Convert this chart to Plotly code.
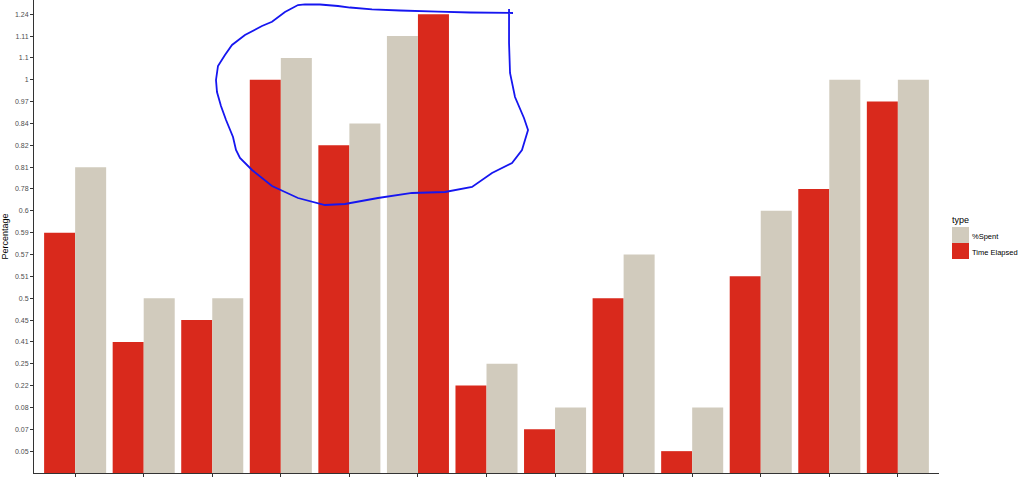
import plotly.graph_objects as go

# y values are factor levels in the source chart, so the axis is ordinal:
# every level gets one evenly spaced slot, lowest at the bottom.
LEVELS = ["0.05", "0.07", "0.08", "0.22", "0.25", "0.41", "0.45", "0.5", "0.51",
          "0.57", "0.59", "0.6", "0.78", "0.81", "0.82", "0.84", "0.97", "1",
          "1.1", "1.11", "1.24"]

GROUPS = list(range(1, 14))
TIME_ELAPSED = ["0.59", "0.41", "0.45", "1", "0.82", "1.24", "0.22", "0.07",
                "0.5", "0.05", "0.51", "0.78", "0.97"]
SPENT = ["0.81", "0.5", "0.5", "1.1", "0.84", "1.11", "0.25", "0.08",
         "0.57", "0.08", "0.6", "1", "1"]
# which series sits on the left of each pair (group 6 is flipped in the source)
ELAPSED_LEFT = [True, True, True, True, True, False, True, True,
                True, True, True, True, True]

RED = "#d9291c"
SAND = "#d1cbbd"
INK = "#4d4d4d"

W, H = 1024, 477
M = dict(l=34, r=85, t=0, b=4)
BW = 0.4525  # one bar, in group units


def slot(v):
    return LEVELS.index(v) + 1


fig = go.Figure()
fig.add_trace(go.Bar(x=GROUPS, y=[slot(v) for v in TIME_ELAPSED], name="Time Elapsed",
                     width=BW, offset=[-BW if left else 0 for left in ELAPSED_LEFT],
                     marker=dict(color=RED, line=dict(width=0))))
fig.add_trace(go.Bar(x=GROUPS, y=[slot(v) for v in SPENT], name="%Spent",
                     width=BW, offset=[0 if left else -BW for left in ELAPSED_LEFT],
                     marker=dict(color=SAND, line=dict(width=0))))

pw = W - M["l"] - M["r"]
ph = H - M["t"] - M["b"]


def paper(px, py):
    return (px - M["l"]) / pw, (H - M["b"] - py) / ph


# hand-drawn blue loop over the reference (screen pixels -> paper coords)
scribble = [(513, 13), (470, 12.5), (438, 11.7), (400, 10.5), (372, 9.3), (350, 7.5),
            (338, 6), (320, 4.5), (305, 4.3), (298, 5), (285, 12), (272, 21.7),
            (262, 26), (245, 35), (232, 45), (225, 55), (218, 66), (216, 80),
            (217, 92), (221, 106), (226, 120), (233, 137), (236, 150), (240, 158),
            (252, 170), (272, 186), (298, 198), (325, 205), (345, 204), (378, 198),
            (412, 193), (445, 192), (472, 187), (492, 173), (512, 163), (522, 150),
            (528, 130), (524, 118), (515, 97), (510, 73), (509, 43), (509, 13),
            (509, 9)]
path = "M " + " L ".join("%.4f,%.4f" % paper(px, py) for px, py in scribble)
fig.add_shape(type="path", path=path, xref="paper", yref="paper",
              line=dict(color="#1616f0", width=1.8))

# ggplot-style legend: title plus two 17px keys
def key(y0, y1, color):
    x0, ya = paper(952, y0)
    x1, yb = paper(969, y1)
    fig.add_shape(type="rect", xref="paper", yref="paper", x0=x0, x1=x1, y0=yb, y1=ya,
                  fillcolor=color, line=dict(width=0))


def label(px, py, text, size):
    x, y = paper(px, py)
    fig.add_annotation(x=x, y=y, xref="paper", yref="paper", text=text, showarrow=False,
                       xanchor="left", yanchor="middle", font=dict(size=size, color="black"))


label(950, 220, "type", 9)
key(227, 243, SAND)
key(243, 259, RED)
label(970, 236, "%Spent", 7.5)
label(970, 252, "Time Elapsed", 7.5)

fig.update_layout(
    width=W, height=H,
    margin=dict(M, autoexpand=False),
    paper_bgcolor="white", plot_bgcolor="white",
    font=dict(family="Liberation Sans, Arial, sans-serif", color="black", size=9),
    barmode="overlay", showlegend=False,
)
fig.update_xaxes(range=[0.4, 13.6], tickvals=GROUPS, showticklabels=False,
                 ticks="outside", ticklen=3, tickcolor="#333333",
                 showline=True, linecolor="#333333", linewidth=1,
                 showgrid=False, zeroline=False)
fig.update_yaxes(range=[0, 21.65], tickvals=list(range(1, len(LEVELS) + 1)),
                 ticktext=LEVELS, ticks="outside", ticklen=3, tickcolor="#333333",
                 tickfont=dict(size=7, color=INK),
                 showline=True, linecolor="#333333", linewidth=1,
                 showgrid=False, zeroline=False,
                 title=dict(text="Percentage", font=dict(size=9), standoff=4))

# page body margin would shift the fixed-size figure; drop it
fig.write_html("out.html", config={"displayModeBar": False},
               post_script="document.body.style.margin='0';")
